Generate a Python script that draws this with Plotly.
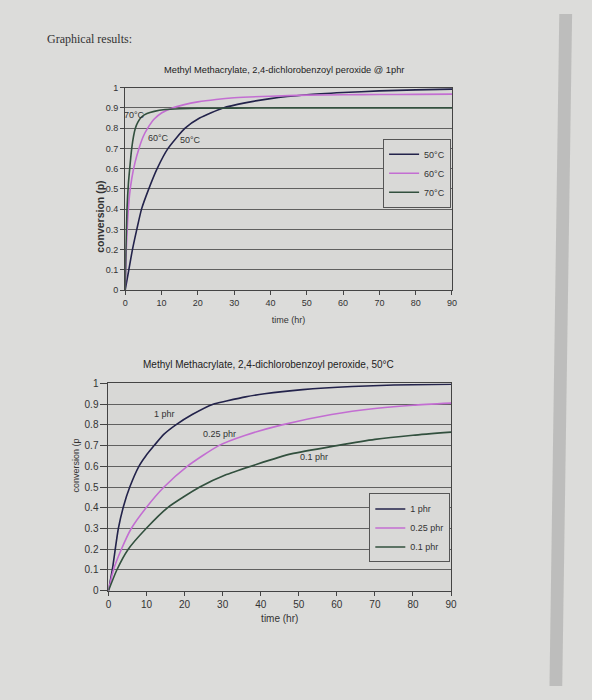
import plotly.graph_objs as go

# chart 1: conversion vs time at 1 phr initiator, three temperatures
t_50C = [0, 1, 2, 3.2, 4.5, 6.5, 8.8, 11.8, 16.5, 20.5, 27, 33, 40, 50, 60, 70, 80, 90]
p_50C = [0, 0.1, 0.2, 0.3, 0.4, 0.5, 0.6, 0.7, 0.8, 0.85, 0.9, 0.925, 0.946, 0.965, 0.976, 0.984, 0.989, 0.993]
t_60C = [0, 0.3, 0.7, 1.2, 1.8, 2.7, 3.8, 5, 6.2, 8, 10, 13, 16, 20, 25, 30, 40, 50, 60, 70, 80, 90]
p_60C = [0, 0.2, 0.35, 0.47, 0.55, 0.63, 0.7, 0.76, 0.8, 0.845, 0.875, 0.9, 0.915, 0.93, 0.942, 0.95, 0.958, 0.963, 0.965, 0.966, 0.967, 0.968]
t_70C = [0, 0.2, 0.5, 0.9, 1.4, 1.8, 2.3, 2.8, 3.5, 4.5, 6, 8, 11, 15, 20, 30, 45, 60, 90]
p_70C = [0, 0.2, 0.4, 0.53, 0.63, 0.7, 0.76, 0.8, 0.83, 0.855, 0.872, 0.883, 0.892, 0.896, 0.898, 0.899, 0.9, 0.9, 0.9]

# chart 2: conversion vs time at 50C, three initiator levels
t_1phr = [0, 1, 2.6, 4, 5.6, 8, 9.8, 12, 14.6, 17.7, 22, 27.5, 31, 36, 41, 51, 64, 75, 90]
p_1phr = [0, 0.1, 0.3, 0.41, 0.5, 0.6, 0.65, 0.7, 0.755, 0.8, 0.85, 0.9, 0.915, 0.935, 0.95, 0.97, 0.985, 0.992, 0.996]
t_025phr = [0, 1.3, 3.4, 6, 9.9, 14.6, 20.7, 29, 36, 45.6, 58.6, 70.6, 80, 90]
p_025phr = [0, 0.1, 0.2, 0.3, 0.4, 0.5, 0.6, 0.7, 0.75, 0.8, 0.85, 0.88, 0.895, 0.905]
t_01phr = [0, 2.2, 5.2, 9.9, 15.5, 24, 31, 39, 48, 60, 70, 80, 90]
p_01phr = [0, 0.1, 0.2, 0.3, 0.4, 0.5, 0.56, 0.61, 0.66, 0.7, 0.73, 0.75, 0.765]

NAVY = 'rgb(35,35,75)'
MAGENTA = 'rgb(195,110,210)'
GREEN = 'rgb(50,80,62)'
FONT = 'Liberation Sans'
BG = '#dcdcda'
# the page keeps its 8px body margin, so the figure is sized to fill the window exactly
W, H = 576, 684
M = 8

def px(x):
    # window pixel -> paper fraction
    return (x - M) / W

def py(y):
    return 1 - (y - M) / H

fig = go.Figure()

for name, xs, ys, col in [('50°C', t_50C, p_50C, NAVY), ('60°C', t_60C, p_60C, MAGENTA), ('70°C', t_70C, p_70C, GREEN)]:
    fig.add_trace(go.Scatter(name=name, x=xs, y=ys, mode='lines',
                             line=dict(color=col, width=1.6, shape='spline', smoothing=0.6),
                             xaxis='x', yaxis='y', legend='legend'))
for name, xs, ys, col in [('1 phr', t_1phr, p_1phr, NAVY), ('0.25 phr', t_025phr, p_025phr, MAGENTA), ('0.1 phr', t_01phr, p_01phr, GREEN)]:
    fig.add_trace(go.Scatter(name=name, x=xs, y=ys, mode='lines',
                             line=dict(color=col, width=1.6, shape='spline', smoothing=0.6),
                             xaxis='x2', yaxis='y2', legend='legend2'))

xcommon = dict(range=[0, 90], dtick=10, showgrid=False, zeroline=False, showline=True,
               linecolor='#444', linewidth=1, ticks='outside', ticklen=4, tickcolor='#444',
               mirror=True, tickfont=dict(family=FONT, size=9, color='#333'))
ycommon = dict(range=[0, 1], dtick=0.1, showgrid=True, gridcolor='#606060', gridwidth=1,
               zeroline=False, showline=True, linecolor='#444', linewidth=1, mirror=True,
               ticks='outside', ticklen=4, tickcolor='#444',
               tickfont=dict(family=FONT, size=9, color='#333'))

legcommon = dict(bgcolor='#d9d9d7', bordercolor='#555', borderwidth=1,
                 font=dict(family=FONT, size=9, color='#333'), itemwidth=30,
                 tracegroupgap=0, xanchor='left', yanchor='top')

fig.update_layout(
    width=W, height=H,
    margin=dict(l=0, r=0, t=0, b=0),
    paper_bgcolor=BG,
    plot_bgcolor='#d8d8d6',
    showlegend=True,
    xaxis=dict(xcommon, domain=[px(124), px(456)], anchor='y',
               title=dict(text='time (hr)', font=dict(family=FONT, size=9, color='#333'), standoff=9)),
    yaxis=dict(ycommon, domain=[py(289), py(83)], anchor='x'),
    xaxis2=dict(xcommon, domain=[px(107), px(455)], anchor='y2',
                tickfont=dict(family=FONT, size=10, color='#333'),
                title=dict(text='time (hr)', font=dict(family=FONT, size=10, color='#333'), standoff=6)),
    yaxis2=dict(ycommon, domain=[py(595), py(384)], anchor='x2', ticklen=7,
                tickfont=dict(family=FONT, size=10, color='#333')),
    legend=dict(legcommon, x=px(386), y=py(135)),
    legend2=dict(legcommon, x=px(372), y=py(496)),
    # shadow band at the right edge of the photographed page
    shapes=[dict(type='path', xref='paper', yref='paper', layer='below',
                 path='M {:.4f},1 L {:.4f},1 L {:.4f},0 L {:.4f},0 Z'.format(px(565), px(578), px(568), px(555)),
                 fillcolor='rgba(150,150,150,0.45)', line=dict(width=0))],
)

# page heading, chart titles and y axis titles
fig.add_annotation(text='Graphical results:', xref='paper', yref='paper', x=px(43), y=py(33),
                   xanchor='left', yanchor='middle', showarrow=False,
                   font=dict(family='Liberation Serif', size=12, color='#333'))
fig.add_annotation(text='Methyl Methacrylate, 2,4-dichlorobenzoyl peroxide @ 1phr', xref='paper', yref='paper',
                   x=px(285), y=py(65), xanchor='center', yanchor='middle', showarrow=False,
                   font=dict(family=FONT, size=9.3, color='#222'))
fig.add_annotation(text='Methyl Methacrylate, 2,4-dichlorobenzoyl peroxide, 50°C', xref='paper', yref='paper',
                   x=px(270), y=py(365), xanchor='center', yanchor='middle', showarrow=False,
                   font=dict(family=FONT, size=10, color='#222'))
fig.add_annotation(text='<b>conversion (p)</b>', xref='paper', yref='paper', x=px(90), y=py(176),
                   textangle=-90, showarrow=False, font=dict(family=FONT, size=10.5, color='#333'))
fig.add_annotation(text='conversion (p', xref='paper', yref='paper', x=px(67), y=py(497),
                   textangle=-90, showarrow=False, font=dict(family=FONT, size=9, color='#333'))

# curve labels
for txt, xx, yy in [('70°C', 2.6, 0.864), ('60°C', 9.2, 0.752), ('50°C', 18.1, 0.743)]:
    fig.add_annotation(text=txt, xref='x', yref='y', x=xx, y=yy, showarrow=False,
                       font=dict(family=FONT, size=9, color='#333'))
for txt, xx, yy in [('1 phr', 14.6, 0.853), ('0.25 phr', 29.3, 0.754), ('0.1 phr', 54.0, 0.645)]:
    fig.add_annotation(text=txt, xref='x2', yref='y2', x=xx, y=yy, showarrow=False,
                       font=dict(family=FONT, size=9, color='#333'))

# page colour behind the figure margin
fig.write_html("out.html", config={'displayModeBar': False},
               post_script="document.body.style.background='" + BG + "';")
